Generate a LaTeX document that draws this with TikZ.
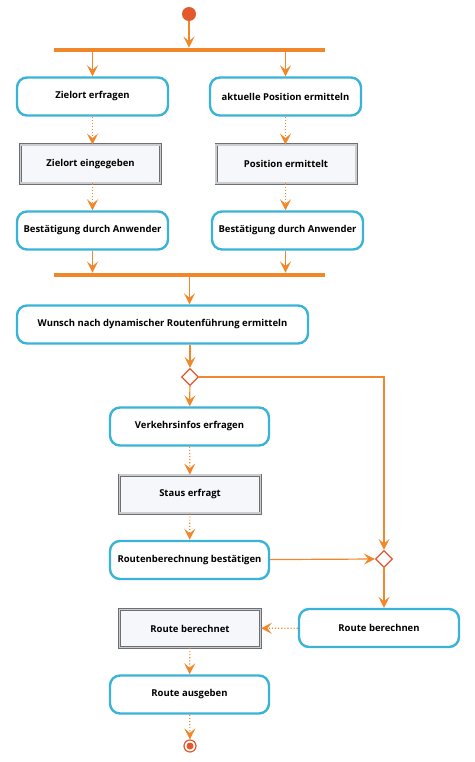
\documentclass[tikz,border=0pt]{standalone}
\usepackage{fontspec}
\setmainfont{Open Sans}
\usetikzlibrary{arrows.meta,shapes.geometric}
\definecolor{flow}{HTML}{F0872A}
\definecolor{mark}{HTML}{E4582E}
\definecolor{act}{HTML}{3AB3D8}
\definecolor{objline}{HTML}{6C6F73}
\definecolor{objfill}{HTML}{F5F7FA}
\begin{document}
\begin{tikzpicture}[x=1pt, y=-1pt,
	action/.style={draw=act, line width=2.4pt, rounded corners=10pt, fill=white,
		minimum height=38pt, inner sep=0pt, font=\fontsize{9.5}{11}\selectfont\bfseries},
	object/.style={draw=objline, double=objline!35, double distance=1.4pt, line width=0.8pt,
		fill=objfill, minimum height=38pt, inner sep=0pt, font=\fontsize{9.5}{11}\selectfont\bfseries},
	bar/.style={fill=flow, minimum height=4.5pt, inner sep=0pt},
	decision/.style={diamond, draw=mark, line width=1.2pt, fill=white, minimum size=17pt, inner sep=0pt},
	flowline/.style={-{Stealth[length=11pt, width=11pt, inset=4.5pt]}, draw=flow, line width=1.2pt},
	objflow/.style={-{Stealth[length=11pt, width=11pt, inset=4.5pt]}, draw=flow, line width=1.1pt, dotted}]

\useasboundingbox (0,0) rectangle (474,762);

\node [circle, fill=mark, minimum size=14pt, inner sep=0pt] (start) at (189,14) {};
\node [bar, minimum width=271pt] (fork) at (189.5,50) {};

\node [action, minimum width=151pt] (askdest) at (92.5,96.5) {Zielort erfragen};
\node [action, minimum width=151pt] (askpos) at (285.5,96.5) {aktuelle Position ermitteln};
\node [object, minimum width=140pt] (destin) at (90.5,164) {Zielort eingegeben};
\node [object, minimum width=140pt] (posin) at (286,164) {Position ermittelt};
\node [action, minimum width=151pt] (confa) at (92.5,230.5) {Bestätigung durch Anwender};
\node [action, minimum width=151pt] (confb) at (287.5,230.5) {Bestätigung durch Anwender};
\node [bar, minimum width=271pt] (join) at (189.5,275) {};

\node [action, minimum width=291pt] (wish) at (162.5,324.5) {Wunsch nach dynamischer Routenführung ermitteln};
\node [decision] (split) at (190,377) {};
\node [action, minimum width=159pt] (traffic) at (189.5,426.5) {Verkehrsinfos erfragen};
\node [object, minimum width=141pt] (jams) at (190,494) {Staus erfragt};
\node [action, minimum width=159pt] (confroute) at (189.5,560) {Routenberechnung bestätigen};
\node [decision] (merge) at (384,559) {};
\node [action, minimum width=160pt] (calc) at (379,628) {Route berechnen};
\node [object, minimum width=141pt] (calced) at (190,628.5) {Route berechnet};
\node [action, minimum width=159pt] (output) at (189.5,694.5) {Route ausgeben};

\node [circle, draw=mark, line width=1.2pt, fill=white, minimum size=12pt, inner sep=0pt] (stop) at (190,746) {};
\node [circle, fill=mark, minimum size=7pt, inner sep=0pt] at (stop) {};

\draw [flowline] (start) -- (start |- fork.north);
\draw [flowline] (askdest |- fork.south) -- (askdest.north);
\draw [flowline] (askpos |- fork.south) -- (askpos.north);
\draw [objflow] (askdest) -- (askdest |- destin.north);
\draw [objflow] (askpos) -- (askpos |- posin.north);
\draw [objflow] (askdest |- destin.south) -- (confa.north);
\draw [objflow] (askpos |- posin.south) -- (askpos |- confb.north);
\draw [flowline] (confa) -- (confa |- join.north);
\draw [flowline] (askpos |- confb.south) -- (askpos |- join.north);
\draw [flowline] (join) -- (join |- wish.north);
\draw [flowline] (wish.south -| split) -- (split);
\draw [flowline] (split) -- (traffic);
\draw [flowline] (split.east) -| (merge.north);
\draw [objflow] (traffic) -- (jams);
\draw [objflow] (jams) -- (confroute);
\draw [flowline] (confroute) -- (merge.west);
\draw [flowline] (merge) -- (merge |- calc.north);
\draw [objflow] (calc) -- (calced);
\draw [objflow] (calced) -- (output);
\draw [objflow] (output) -- (stop);

\end{tikzpicture}
\end{document}
